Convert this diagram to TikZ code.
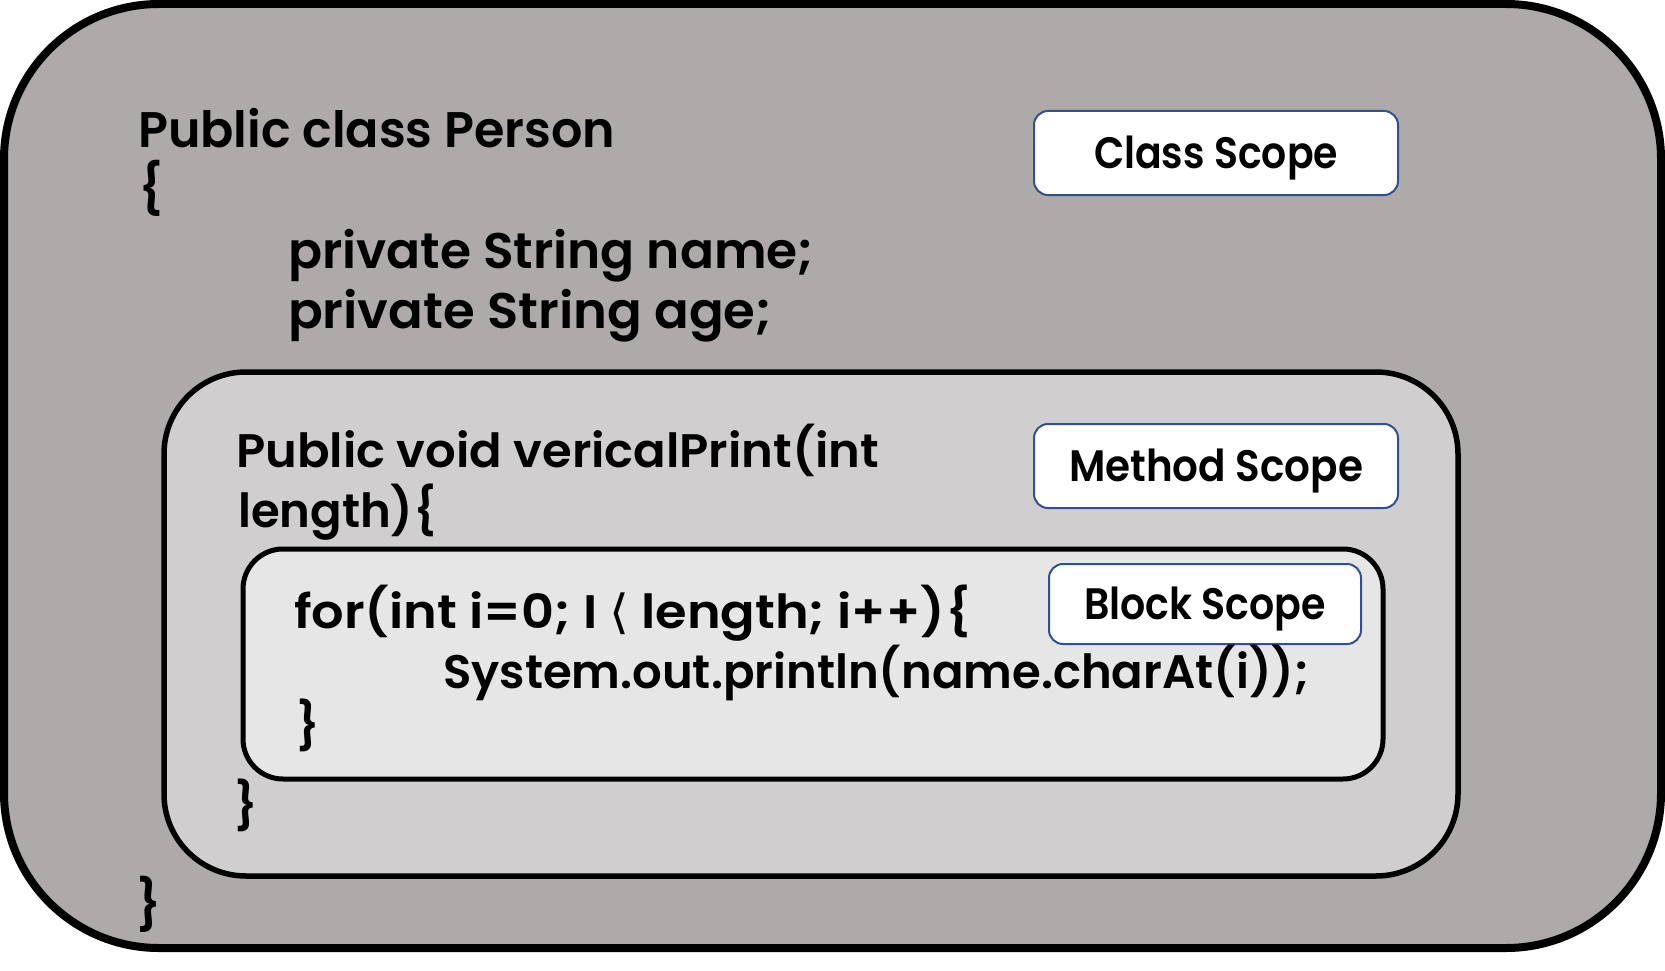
\documentclass[tikz,border=0pt]{standalone}
\usepackage{fontspec}
\setmainfont{Poppins}
\IfFontExistsTF{Poppins SemiBold}
  {\newfontfamily\codefont{Poppins SemiBold}}
  {\newfontfamily\codefont{Poppins}[FakeBold=1.5]}
\newfontfamily\djv{DejaVu Sans}
\usepackage{graphicx}
\definecolor{outerfill}{HTML}{AEAAAA}
\definecolor{methodfill}{HTML}{D0CECE}
\definecolor{blockfill}{HTML}{E7E6E6}
\definecolor{scopeblue}{HTML}{2F528F}
\newcommand{\fitw}[2]{\resizebox{#1pt}{\height}{#2}}
\tikzset{
  region/.style={draw=black, rectangle, inner sep=0pt},
  classregion/.style={region, fill=outerfill, line width=8pt, rounded corners=155pt,
    minimum width=1657pt, minimum height=944pt},
  methodregion/.style={region, fill=methodfill, line width=5.5pt, rounded corners=82pt,
    minimum width=1294pt, minimum height=504pt},
  blockregion/.style={region, fill=blockfill, line width=5pt, rounded corners=40pt,
    minimum width=1140pt, minimum height=230pt},
  scopelabel/.style={draw=scopeblue, fill=white, rectangle, line width=2pt, rounded corners=14pt,
    inner sep=0pt, minimum height=84pt, minimum width=364pt,
    text height=31pt, text depth=0pt,
    font=\codefont\fontsize{44}{50}\selectfont},
  codebig/.style={anchor=base west, inner sep=0pt, font=\codefont\fontsize{50}{60}\selectfont},
  codesmall/.style={anchor=base west, inner sep=0pt, font=\codefont\fontsize{47}{56}\selectfont},
}
\begin{document}
\begin{tikzpicture}[x=1pt,y=-1pt]
\useasboundingbox (0,0) rectangle (1665,971);
% regions
\node[classregion] (classreg) at (832.5,476) {};
\node[methodregion] (methodreg) at (811,624) {};
\node[blockregion] (blockreg) at (813,664) {};
% scope labels
\node[scopelabel] (classlbl) at (1216,153) {\fitw{244}{Class Scope}};
\node[scopelabel] (methodlbl) at (1216,466) {\fitw{294}{Method Scope}};
\node[scopelabel, minimum width=312pt, minimum height=80pt] (blocklbl) at (1205,604) {\fitw{242}{Block Scope}};
% class code
\node[codebig] (c1) at (138,148) {\fitw{477}{Public class Person}};
\node[codebig] (c2) at (138,206) {\{};
\node[codebig] (c3) at (288,268) {\fitw{526}{private String name;}};
\node[codebig] (c4) at (288,328) {\fitw{484}{private String age;}};
\node[codebig] (c5) at (136,922) {\}};
% method code
\node[codesmall] (m1) at (236,467) {\fitw{643}{Public void vericalPrint(int}};
\node[codesmall] (m2) at (238,527) {\fitw{199}{length)\{}};
\node[codesmall] (m3) at (234,822) {\}};
% block code
\node[codesmall] (b1) at (294,628) {\fitw{677}{for(int i=0; I {\djv ⟨} length; i++)\{}};
\node[codesmall] (b2) at (443,688) {\fitw{866}{System.out.println(name.charAt(i));}};
\node[codesmall] (b3) at (296,742) {\}};
\end{tikzpicture}
\end{document}
